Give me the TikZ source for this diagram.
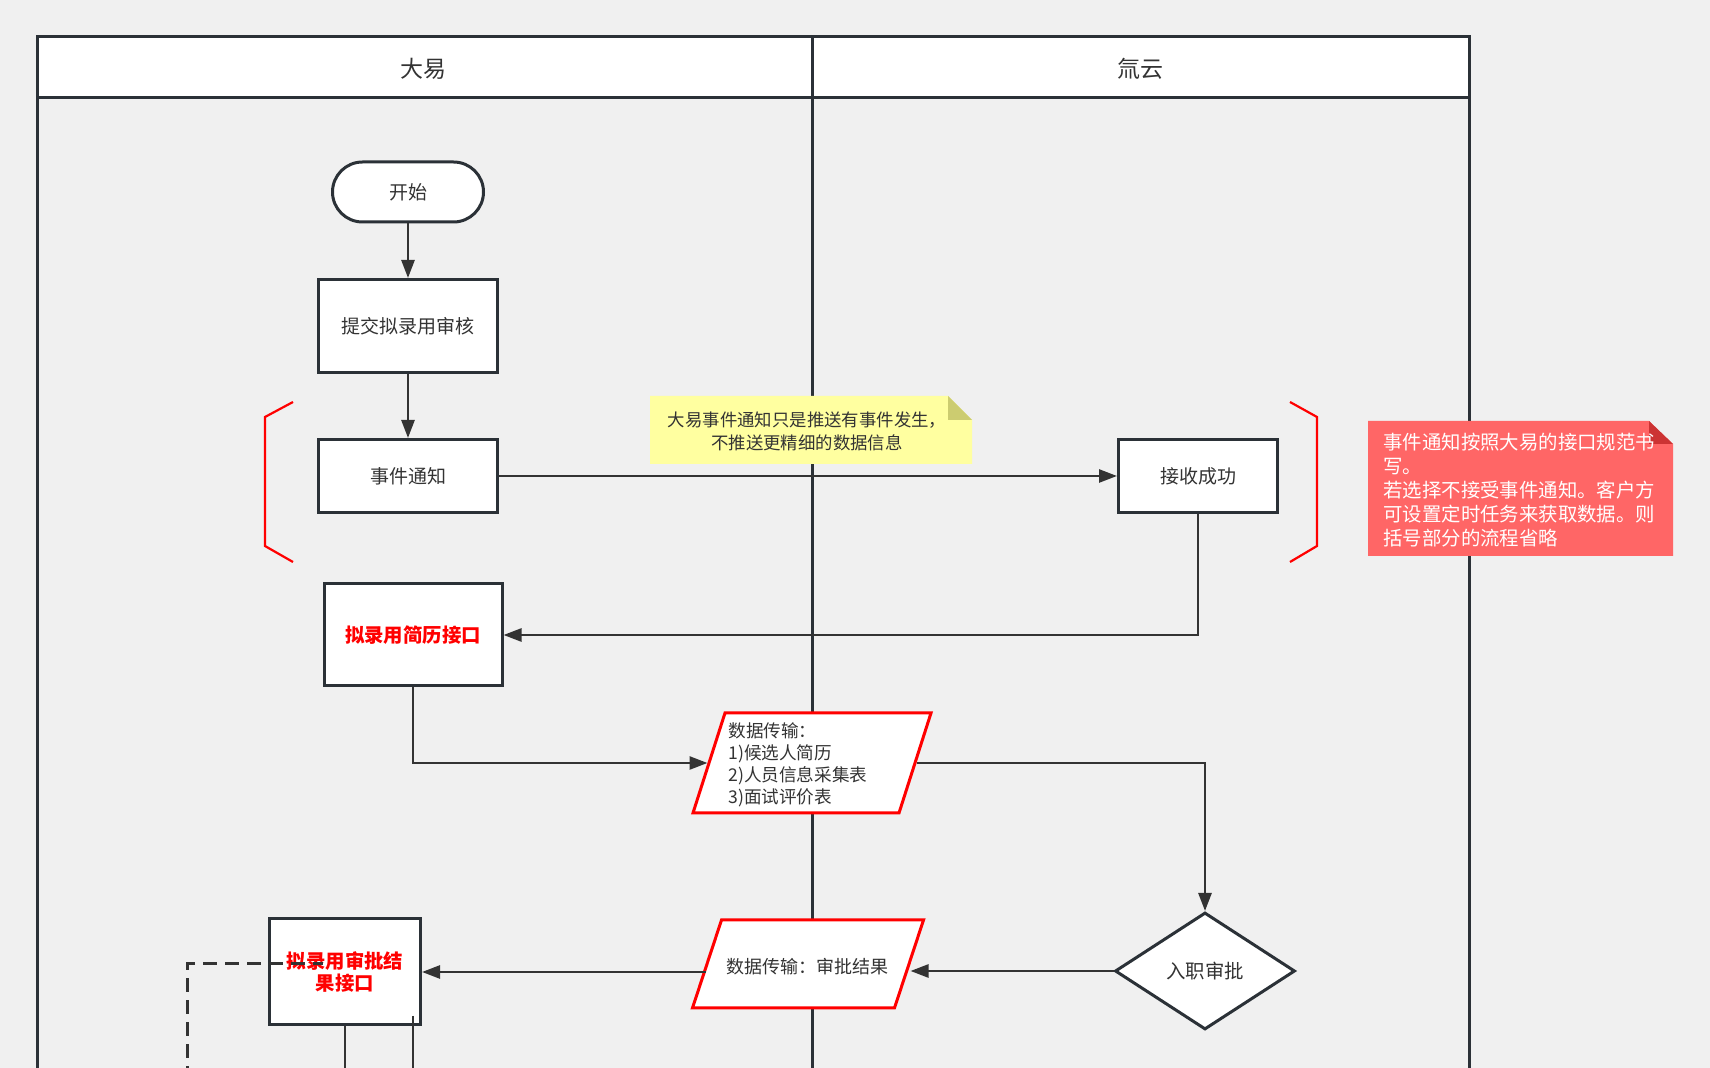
\documentclass[tikz,border=0pt]{standalone}
\usepackage{fontspec}
\setmainfont{Noto Sans CJK SC}
\usetikzlibrary{arrows.meta,shapes.geometric}
\definecolor{bggray}{HTML}{F0F0F0}
\definecolor{linedark}{HTML}{2B3137}
\definecolor{arrowgray}{HTML}{333333}
\definecolor{textgray}{HTML}{333333}
\definecolor{noteyellow}{HTML}{FFFFA0}
\definecolor{notefold}{HTML}{CCCC70}
\definecolor{notered}{HTML}{FF6666}
\definecolor{redfold}{HTML}{CC3333}
\definecolor{markred}{HTML}{FF0000}
\tikzset{
  procbox/.style={rectangle,draw=linedark,line width=1.5pt,fill=white,text=textgray,
    font=\fontsize{9.5pt}{11pt}\selectfont,align=center,inner sep=0pt},
  startbox/.style={procbox,rounded corners=15pt},
  apibox/.style={procbox,text=markred,font=\fontsize{9.7pt}{11pt}\selectfont\bfseries},
  datapara/.style={rectangle,transform shape,draw=markred,line width=1.5pt,fill=white,inner sep=0pt},
  paratext/.style={text=textgray,inner sep=0pt},
  decbox/.style={diamond,draw=linedark,line width=1.5pt,fill=white,text=textgray,
    inner sep=0pt,font=\fontsize{9.7pt}{11pt}\selectfont},
  flowarrow/.style={draw=arrowgray,line width=1.3pt,-{Triangle[length=9pt,width=6.5pt]}},
  flowline/.style={draw=arrowgray,line width=1.3pt},
  dashline/.style={draw=arrowgray,line width=1.5pt,dash pattern=on 7pt off 4pt},
  bracketline/.style={draw=markred,line width=1.1pt},
  lanetitle/.style={text=textgray,font=\fontsize{11.5pt}{13pt}\selectfont}
}
\begin{document}
\begin{tikzpicture}[x=0.5pt,y=-0.5pt]
\useasboundingbox (0,0) rectangle (1710,1068);
\clip (0,0) rectangle (1710,1068);
\fill[bggray] (0,0) rectangle (1710,1068);
% pool and lanes
\fill[white] (37,37) rectangle (1469,98);
\draw[linedark,line width=1.5pt] (37,1080) -- (37,37) -- (1469,37) -- (1469,1080);
\draw[linedark,line width=1.5pt] (37,98) -- (1469,98);
\draw[linedark,line width=1.5pt] (812,37) -- (812,1080);
\foreach \lx/\lname in {423/大易,1140/氚云}
  \node[lanetitle] at (\lx,69) {\lname};
% brackets round the optional part
\draw[bracketline] (293,402) -- (265,417) -- (265,546) -- (293,562);
\draw[bracketline] (1290,402) -- (1317,417) -- (1317,546) -- (1290,562);
% notes
\fill[noteyellow] (650,396) -- (948,396) -- (972,420) -- (972,464) -- (650,464) -- cycle;
\fill[notefold] (948,396) -- (972,420) -- (948,420) -- cycle;
\node[text=textgray,font=\fontsize{8.7pt}{11.5pt}\selectfont,align=center,inner sep=0pt] (pushnote) at (807,431)
  {大易事件通知只是推送有事件发生，\\不推送更精细的数据信息};
\fill[notered] (1368,421) -- (1649,421) -- (1673,444) -- (1673,556) -- (1368,556) -- cycle;
\fill[redfold] (1649,421) -- (1673,444) -- (1649,444) -- cycle;
\node[text=white,font=\fontsize{9.7pt}{12pt}\selectfont,align=left,inner sep=0pt,anchor=west] (rulenote) at (1383,490)
  {事件通知按照大易的接口规范书\\写。\\若选择不接受事件通知。客户方\\可设置定时任务来获取数据。则\\括号部分的流程省略};
% flow nodes
\node[startbox,minimum width=75.5pt,minimum height=30pt] (start) at (408,192) {开始};
\node[procbox,minimum width=89.5pt,minimum height=46.5pt] (submit) at (408,326) {提交拟录用审核};
\node[procbox,minimum width=89.5pt,minimum height=36.5pt] (notify) at (408,476) {事件通知};
\node[procbox,minimum width=79.5pt,minimum height=36.5pt] (recv) at (1198,476) {接收成功};
\node[apibox,minimum width=89pt,minimum height=51pt] (resume) at (413,635) {拟录用简历接口};
\node[datapara,xslant=0.32,minimum width=103pt,minimum height=50pt] (datasend) at (812,763) {};
\node[paratext,font=\fontsize{8.8pt}{11pt}\selectfont,align=left,anchor=west] (datatext) at (728,765)
  {数据传输：\\1)候选人简历\\2)人员信息采集表\\3)面试评价表};
\node[decbox,minimum width=90pt,minimum height=58.5pt] (approve) at (1205,971) {入职审批};
\node[datapara,xslant=0.33,minimum width=101pt,minimum height=44pt] (resultsend) at (808,964) {};
\node[paratext,font=\fontsize{9pt}{11pt}\selectfont] (resulttext) at (807,967) {数据传输：审批结果};
\node[apibox,minimum width=75.5pt,minimum height=53pt] (result) at (345,972) {拟录用审批结\\果接口};
% connectors
\coordinate (backin) at (323,964);
\coordinate (backout) at (187,1080);
\coordinate (downA) at (345,1080);
\coordinate (downBtop) at (413,1016);
\coordinate (downB) at (413,1080);
\draw[flowarrow] (start) -- (submit);
\draw[flowarrow] (submit) -- (notify);
\draw[flowarrow] (notify) -- (recv);
\draw[flowarrow] (recv.south) |- (resume.east);
\draw[flowarrow] (resume.south) |- (datasend.west);
\draw[flowarrow] (datasend.east) -| (approve.north);
\draw[flowarrow] (approve.west) -- (approve.west -| resultsend.east);
\draw[flowarrow] (result.east -| resultsend.west) -- (result.east);
\draw[dashline] (backout) |- (backin);
\draw[flowline] (result.south) -- (downA);
\draw[flowline] (downBtop) -- (downB);
\end{tikzpicture}
\end{document}
